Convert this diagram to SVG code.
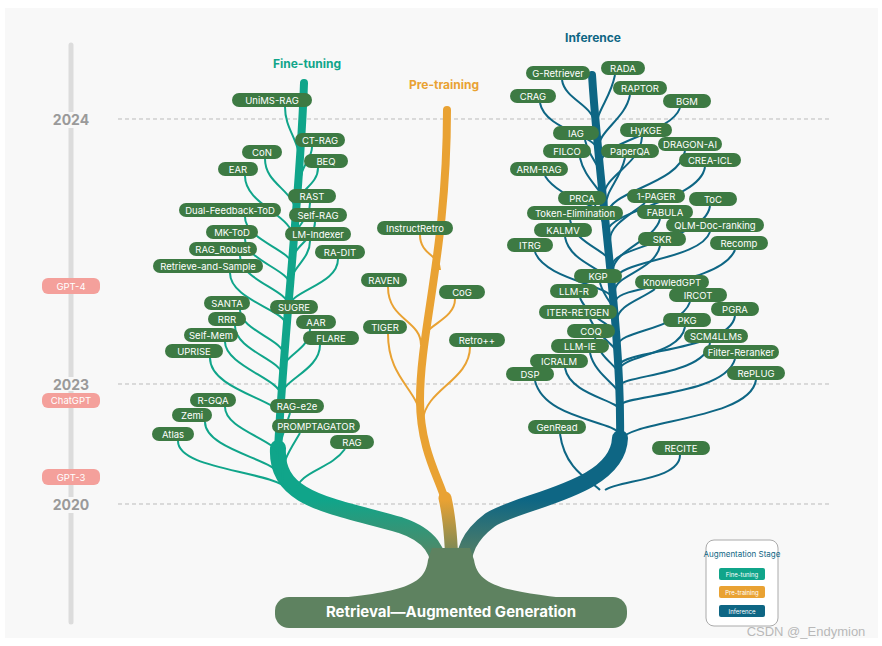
<svg xmlns="http://www.w3.org/2000/svg" width="882" height="646" viewBox="0 0 882 646">
<defs>
<style>
.n rect{fill:#3d7a43}
.n text{fill:#fff;font-family:Inter,"Noto Sans",sans-serif;font-size:9.5px;text-anchor:middle;dominant-baseline:central}
.cf path{stroke:#10a58a;stroke-width:2;fill:none}
.cp path{stroke:#e9a233;stroke-width:2;fill:none}
.ci path{stroke:#0e6684;stroke-width:2;fill:none}
.yr{font-family:Inter,"Noto Sans",sans-serif;font-size:14px;font-weight:bold;fill:#9a9a9a;text-anchor:middle}
.gp rect{fill:#f4a09b}
.gp text{fill:#fff;font-family:Inter,"Noto Sans",sans-serif;font-size:9.5px;text-anchor:middle;dominant-baseline:central}
.dash{stroke:#bbb;stroke-width:1;stroke-dasharray:4 3}
.tt{font-family:Inter,"Noto Sans",sans-serif;font-size:12px;font-weight:bold;text-anchor:middle}
</style>
<linearGradient id="gf" gradientUnits="userSpaceOnUse" x1="0" y1="500" x2="0" y2="565"><stop offset="0" stop-color="#10a58a"/><stop offset="1" stop-color="#5e8260"/></linearGradient>
<linearGradient id="gpg" gradientUnits="userSpaceOnUse" x1="0" y1="500" x2="0" y2="565"><stop offset="0" stop-color="#e9a233"/><stop offset="1" stop-color="#5e8260"/></linearGradient>
<linearGradient id="gi" gradientUnits="userSpaceOnUse" x1="0" y1="500" x2="0" y2="565"><stop offset="0" stop-color="#0e6684"/><stop offset="1" stop-color="#5e8260"/></linearGradient>
</defs>
<rect x="0" y="0" width="882" height="646" fill="#fff"/>
<rect x="5" y="8" width="873" height="630" fill="#f8f8f8"/>
<g id="timeline">
<line x1="71" y1="45" x2="71" y2="622" stroke="#dcdcdc" stroke-width="5" stroke-linecap="round"/>
<line class="dash" x1="118" y1="119" x2="830" y2="119"/>
<line class="dash" x1="118" y1="384" x2="830" y2="384"/>
<line class="dash" x1="118" y1="504" x2="830" y2="504"/>
<rect x="50" y="112" width="42" height="16" fill="#f8f8f8"/>
<rect x="50" y="377" width="42" height="14" fill="#f8f8f8"/>
<rect x="50" y="497" width="42" height="16" fill="#f8f8f8"/>
<text class="yr" x="71" y="125">2024</text>
<text class="yr" x="71" y="390">2023</text>
<text class="yr" x="71" y="510">2020</text>
<g class="gp"><rect x="42" y="278" width="58" height="16" rx="6"/><text x="71" y="286">GPT-4</text></g>
<g class="gp"><rect x="42" y="393" width="58" height="15" rx="6"/><text x="71" y="400.5">ChatGPT</text></g>
<g class="gp"><rect x="42" y="469" width="58" height="16" rx="6"/><text x="71" y="477">GPT-3</text></g>
</g>
<g id="trunks" fill="none" stroke-linecap="round">
<path d="M304,83 C300,200 284,330 278,450" stroke="#10a58a" stroke-width="8"/>
<path d="M278,448 C275,500 330,505 400,525 C430,535 440,550 442,580" stroke="url(#gf)" stroke-width="16"/>
<path d="M447,110 C447,250 420,330 420,400 C420,450 440,480 445,500" stroke="#e9a233" stroke-width="8"/>
<path d="M445,498 C450,520 452,545 452,580" stroke="url(#gpg)" stroke-width="13"/>
<path d="M592,75 C600,200 622,330 620,440" stroke="#0e6684" stroke-width="8"/>
<path d="M620,438 C618,490 520,500 490,520 C470,535 462,550 462,580" stroke="url(#gi)" stroke-width="16"/>
<path d="M320,600 C405,592 425,585 428,560 L 432,548 L470,548 L474,560 C478,585 500,592 585,600 Z" fill="#5e8260"/>
</g>
<g id="root"><rect x="275" y="597" width="352" height="31" rx="14" fill="#5e8260"/>
<text x="451" y="617" font-family="Inter,'Noto Sans',sans-serif" font-size="15" font-weight="bold" fill="#fff" text-anchor="middle">Retrieval—Augmented Generation</text></g>
<text class="tt" x="307" y="68" fill="#10a58a">Fine-tuning</text>
<text class="tt" x="444" y="89" fill="#e9a233">Pre-training</text>
<text class="tt" x="593" y="42" fill="#0e6684">Inference</text>
<g id="connectors">
<g class="cf">
<path d="M285,107 C285,130 300,140 300,165"/><path d="M312,147 C312,160 300,165 300,185"/><path d="M265,159 C265,185 296,190 296,215"/><path d="M318,168 C318,185 298,190 297,205"/><path d="M245,176 C245,205 294,215 294,240"/><path d="M310,203 C310,220 294,225 293,245"/><path d="M245,217 C245,240 292,250 292,265"/><path d="M315,222 C315,240 292,245 291,265"/><path d="M245,239 C245,260 290,270 290,285"/><path d="M310,241 C310,260 290,268 290,285"/><path d="M240,256 C240,280 288,290 288,305"/><path d="M338,259 C338,285 290,290 288,308"/><path d="M230,273 C230,300 286,310 286,325"/><path d="M240,310 C240,330 284,340 284,355"/><path d="M290,314 C290,330 284,340 284,355"/><path d="M235,326 C235,350 282,360 282,375"/><path d="M310,329 C310,350 283,355 283,370"/><path d="M225,342 C225,365 281,380 281,395"/><path d="M320,345 C320,370 282,380 282,395"/><path d="M210,358 C210,390 280,400 280,415"/><path d="M225,407 C225,430 278,440 278,455"/><path d="M290,413 C285,430 279,440 279,460"/><path d="M205,422 C205,450 278,460 279,475"/><path d="M300,433 C290,450 282,460 282,480"/><path d="M178,441 C178,470 270,470 290,490"/><path d="M345,449 C330,470 300,470 295,492"/>
</g>
<g class="cp">
<path d="M420,235 C420,255 440,255 440,270"/><path d="M388,287 C388,320 421,320 421,345"/><path d="M455,299 C455,320 424,325 423,340"/><path d="M388,334 C388,380 420,390 421,420"/><path d="M470,347 C470,380 425,390 423,420"/>
</g>
<g class="ci">
<path d="M562,80 C565,100 594,105 595,125"/><path d="M615,75 C610,100 596,110 596,130"/><path d="M540,103 C545,130 597,135 597,150"/><path d="M630,95 C625,120 598,130 598,150"/><path d="M680,108 C670,135 600,140 600,165"/><path d="M585,140 C590,160 601,165 602,180"/><path d="M642,137 C640,165 605,175 604,195"/><path d="M580,158 C585,180 604,190 605,205"/><path d="M625,158 C620,180 606,190 606,205"/><path d="M685,151 C680,185 608,190 607,215"/><path d="M545,176 C560,200 605,205 607,220"/><path d="M705,167 C700,200 612,210 608,230"/><path d="M595,205 C600,220 608,225 609,240"/><path d="M645,203 C630,215 610,225 610,240"/><path d="M710,206 C705,240 615,245 612,265"/><path d="M570,220 C575,245 610,250 611,265"/><path d="M660,219 C655,240 614,250 613,270"/><path d="M710,232 C700,260 618,260 614,280"/><path d="M565,237 C570,265 612,270 613,285"/><path d="M660,246 C655,270 616,275 615,290"/><path d="M535,252 C545,280 612,285 614,300"/><path d="M735,250 C720,285 620,285 616,300"/><path d="M600,283 C605,300 615,305 616,315"/><path d="M655,289 C640,300 618,305 617,320"/><path d="M580,298 C590,320 615,325 617,335"/><path d="M690,302 C680,330 620,330 618,345"/><path d="M590,319 C600,340 617,345 618,355"/><path d="M735,316 C730,350 625,350 619,365"/><path d="M685,327 C680,355 622,355 619,370"/><path d="M595,338 C600,360 618,365 619,375"/><path d="M710,343 C705,375 625,375 620,385"/><path d="M590,353 C595,375 618,385 620,395"/><path d="M735,359 C725,395 625,395 620,405"/><path d="M565,368 C570,395 618,400 620,410"/><path d="M535,381 C545,420 615,420 620,435"/><path d="M756,380 C750,420 630,420 620,440"/><path d="M560,434 C565,470 590,480 600,490"/><path d="M680,455 C680,480 620,480 605,490"/>
</g>
</g>
<g id="nodes">
<g class="n" id="n-unims"><rect x="232" y="93" width="80" height="14" rx="7"/><text x="272" y="100">UniMS-RAG</text></g>
<g class="n" id="n-ctrag"><rect x="295" y="133" width="50" height="14" rx="7"/><text x="320" y="140">CT-RAG</text></g>
<g class="n" id="n-con"><rect x="242" y="145" width="40" height="14" rx="7"/><text x="262" y="152">CoN</text></g>
<g class="n" id="n-beq"><rect x="304" y="154" width="44" height="14" rx="7"/><text x="326" y="161">BEQ</text></g>
<g class="n" id="n-ear"><rect x="218" y="162" width="40" height="14" rx="7"/><text x="238" y="169">EAR</text></g>
<g class="n" id="n-rast"><rect x="288" y="189" width="48" height="14" rx="7"/><text x="312" y="196">RAST</text></g>
<g class="n" id="n-dual"><rect x="179" y="203" width="102" height="14" rx="7"/><text x="230" y="210">Dual-Feedback-ToD</text></g>
<g class="n" id="n-selfrag"><rect x="289" y="208" width="58" height="14" rx="7"/><text x="318" y="215">Self-RAG</text></g>
<g class="n" id="n-mktod"><rect x="206" y="225" width="52" height="14" rx="7"/><text x="232" y="232">MK-ToD</text></g>
<g class="n" id="n-lmidx"><rect x="285" y="227" width="66" height="14" rx="7"/><text x="318" y="234">LM-Indexer</text></g>
<g class="n" id="n-ragrob"><rect x="189" y="242" width="68" height="14" rx="7"/><text x="223" y="249">RAG_Robust</text></g>
<g class="n" id="n-radit"><rect x="315" y="245" width="50" height="14" rx="7"/><text x="340" y="252">RA-DIT</text></g>
<g class="n" id="n-ras"><rect x="153" y="259" width="110" height="14" rx="7"/><text x="208" y="266">Retrieve-and-Sample</text></g>
<g class="n" id="n-santa"><rect x="204" y="296" width="46" height="14" rx="7"/><text x="227" y="303">SANTA</text></g>
<g class="n" id="n-sugre"><rect x="270" y="300" width="48" height="14" rx="7"/><text x="294" y="307">SUGRE</text></g>
<g class="n" id="n-rrr"><rect x="208" y="312" width="38" height="14" rx="7"/><text x="227" y="319">RRR</text></g>
<g class="n" id="n-aar"><rect x="296" y="315" width="40" height="14" rx="7"/><text x="316" y="322">AAR</text></g>
<g class="n" id="n-selfmem"><rect x="184" y="328" width="54" height="14" rx="7"/><text x="211" y="335">Self-Mem</text></g>
<g class="n" id="n-flare"><rect x="303" y="331" width="56" height="14" rx="7"/><text x="331" y="338">FLARE</text></g>
<g class="n" id="n-uprise"><rect x="165" y="344" width="58" height="14" rx="7"/><text x="194" y="351">UPRISE</text></g>
<g class="n" id="n-rgqa"><rect x="190" y="393" width="46" height="14" rx="7"/><text x="213" y="400">R-GQA</text></g>
<g class="n" id="n-rage2e"><rect x="270" y="399" width="54" height="14" rx="7"/><text x="297" y="406">RAG-e2e</text></g>
<g class="n" id="n-zemi"><rect x="172" y="408" width="40" height="14" rx="7"/><text x="192" y="415">Zemi</text></g>
<g class="n" id="n-prompt"><rect x="272" y="419" width="88" height="14" rx="7"/><text x="316" y="426">PROMPTAGATOR</text></g>
<g class="n" id="n-atlas"><rect x="152" y="427" width="42" height="14" rx="7"/><text x="173" y="434">Atlas</text></g>
<g class="n" id="n-rag"><rect x="330" y="435" width="44" height="14" rx="7"/><text x="352" y="442">RAG</text></g>
<g class="n" id="n-instr"><rect x="377" y="221" width="76" height="14" rx="7"/><text x="415" y="228">InstructRetro</text></g>
<g class="n" id="n-raven"><rect x="361" y="273" width="46" height="14" rx="7"/><text x="384" y="280">RAVEN</text></g>
<g class="n" id="n-cog"><rect x="439" y="285" width="46" height="14" rx="7"/><text x="462" y="292">CoG</text></g>
<g class="n" id="n-tiger"><rect x="363" y="320" width="44" height="14" rx="7"/><text x="385" y="327">TIGER</text></g>
<g class="n" id="n-retropp"><rect x="449" y="333" width="56" height="14" rx="7"/><text x="477" y="340">Retro++</text></g>
<g class="n" id="n-gret"><rect x="526" y="66" width="64" height="14" rx="7"/><text x="558" y="73">G-Retriever</text></g>
<g class="n" id="n-rada"><rect x="601" y="61" width="44" height="14" rx="7"/><text x="623" y="68">RADA</text></g>
<g class="n" id="n-crag"><rect x="510" y="89" width="46" height="14" rx="7"/><text x="533" y="96">CRAG</text></g>
<g class="n" id="n-raptor"><rect x="613" y="81" width="54" height="14" rx="7"/><text x="640" y="88">RAPTOR</text></g>
<g class="n" id="n-bgm"><rect x="663" y="94" width="48" height="14" rx="7"/><text x="687" y="101">BGM</text></g>
<g class="n" id="n-iag"><rect x="553" y="126" width="46" height="14" rx="7"/><text x="576" y="133">IAG</text></g>
<g class="n" id="n-hykge"><rect x="620" y="123" width="52" height="14" rx="7"/><text x="646" y="130">HyKGE</text></g>
<g class="n" id="n-filco"><rect x="543" y="144" width="48" height="14" rx="7"/><text x="567" y="151">FILCO</text></g>
<g class="n" id="n-paperqa"><rect x="601" y="144" width="58" height="14" rx="7"/><text x="630" y="151">PaperQA</text></g>
<g class="n" id="n-dragon"><rect x="658" y="137" width="64" height="14" rx="7"/><text x="690" y="144">DRAGON-AI</text></g>
<g class="n" id="n-armrag"><rect x="510" y="162" width="58" height="14" rx="7"/><text x="539" y="169">ARM-RAG</text></g>
<g class="n" id="n-crea"><rect x="679" y="153" width="62" height="14" rx="7"/><text x="710" y="160">CREA-ICL</text></g>
<g class="n" id="n-prca"><rect x="558" y="191" width="48" height="14" rx="7"/><text x="582" y="198">PRCA</text></g>
<g class="n" id="n-1pager"><rect x="627" y="189" width="58" height="14" rx="7"/><text x="656" y="196">1-PAGER</text></g>
<g class="n" id="n-toc"><rect x="689" y="192" width="48" height="14" rx="7"/><text x="713" y="199">ToC</text></g>
<g class="n" id="n-token"><rect x="527" y="206" width="96" height="14" rx="7"/><text x="575" y="213">Token-Elimination</text></g>
<g class="n" id="n-fabula"><rect x="637" y="205" width="56" height="14" rx="7"/><text x="665" y="212">FABULA</text></g>
<g class="n" id="n-qlm"><rect x="666" y="218" width="98" height="14" rx="7"/><text x="715" y="225">QLM-Doc-ranking</text></g>
<g class="n" id="n-kalmv"><rect x="534" y="223" width="58" height="14" rx="7"/><text x="563" y="230">KALMV</text></g>
<g class="n" id="n-skr"><rect x="638" y="232" width="48" height="14" rx="7"/><text x="662" y="239">SKR</text></g>
<g class="n" id="n-itrg"><rect x="507" y="238" width="46" height="14" rx="7"/><text x="530" y="245">ITRG</text></g>
<g class="n" id="n-recomp"><rect x="710" y="236" width="58" height="14" rx="7"/><text x="739" y="243">Recomp</text></g>
<g class="n" id="n-kgp"><rect x="574" y="269" width="48" height="14" rx="7"/><text x="598" y="276">KGP</text></g>
<g class="n" id="n-knowgpt"><rect x="635" y="275" width="74" height="14" rx="7"/><text x="672" y="282">KnowledGPT</text></g>
<g class="n" id="n-llmr"><rect x="550" y="284" width="48" height="14" rx="7"/><text x="574" y="291">LLM-R</text></g>
<g class="n" id="n-ircot"><rect x="669" y="288" width="58" height="14" rx="7"/><text x="698" y="295">IRCOT</text></g>
<g class="n" id="n-iter"><rect x="539" y="305" width="78" height="14" rx="7"/><text x="578" y="312">ITER-RETGEN</text></g>
<g class="n" id="n-pgra"><rect x="711" y="302" width="48" height="14" rx="7"/><text x="735" y="309">PGRA</text></g>
<g class="n" id="n-pkg"><rect x="663" y="313" width="48" height="14" rx="7"/><text x="687" y="320">PKG</text></g>
<g class="n" id="n-coq"><rect x="567" y="324" width="48" height="14" rx="7"/><text x="591" y="331">COQ</text></g>
<g class="n" id="n-scm"><rect x="684" y="329" width="64" height="14" rx="7"/><text x="716" y="336">SCM4LLMs</text></g>
<g class="n" id="n-llmie"><rect x="551" y="339" width="58" height="14" rx="7"/><text x="580" y="346">LLM-IE</text></g>
<g class="n" id="n-filter"><rect x="703" y="345" width="76" height="14" rx="7"/><text x="741" y="352">Filter-Reranker</text></g>
<g class="n" id="n-icralm"><rect x="530" y="354" width="58" height="14" rx="7"/><text x="559" y="361">ICRALM</text></g>
<g class="n" id="n-dsp"><rect x="506" y="367" width="48" height="14" rx="7"/><text x="530" y="374">DSP</text></g>
<g class="n" id="n-replug"><rect x="727" y="366" width="58" height="14" rx="7"/><text x="756" y="373">RePLUG</text></g>
<g class="n" id="n-genread"><rect x="528" y="420" width="58" height="14" rx="7"/><text x="557" y="427">GenRead</text></g>
<g class="n" id="n-recite"><rect x="652" y="441" width="58" height="14" rx="7"/><text x="681" y="448">RECITE</text></g>
</g>
<g id="legend" font-family="Inter,'Noto Sans',sans-serif" text-anchor="middle">
<rect x="706" y="540" width="72" height="86" rx="8" fill="#fff" stroke="#aaa"/>
<text x="742" y="557" font-size="8" fill="#0e6684">Augmentation Stage</text>
<rect x="719" y="568" width="46" height="12" rx="2" fill="#10a58a"/><text x="742" y="577" font-size="6" fill="#fff">Fine-tuning</text>
<rect x="719" y="586" width="46" height="12" rx="2" fill="#e9a233"/><text x="742" y="595" font-size="6" fill="#fff">Pre-training</text>
<rect x="719" y="605" width="46" height="12" rx="2" fill="#0e6684"/><text x="742" y="614" font-size="6" fill="#fff">Inference</text>
</g>
<text x="806" y="636" font-family="'Liberation Sans',sans-serif" font-size="13" fill="#b8b8b8" text-anchor="middle">CSDN @_Endymion</text>
</svg>
